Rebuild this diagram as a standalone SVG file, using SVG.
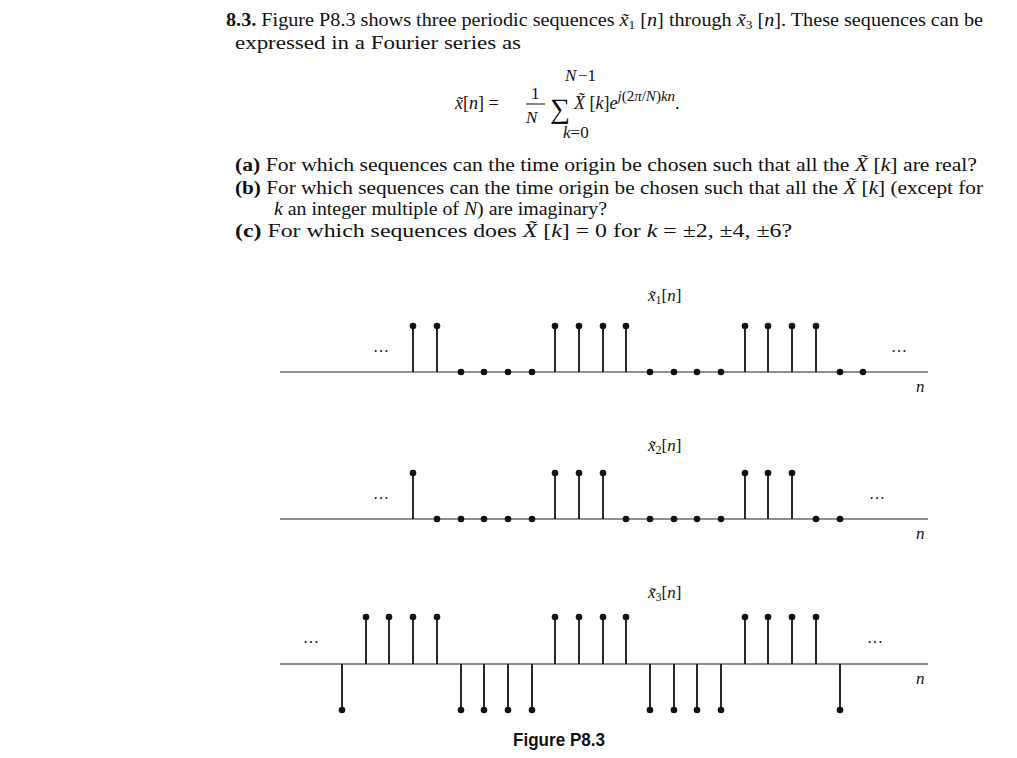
<svg xmlns="http://www.w3.org/2000/svg" width="1017" height="758" viewBox="0 0 1017 758" font-family="'Liberation Serif',serif" font-size="18">
<style>
text{fill:#111}
.i{font-style:italic}
.s{stroke:#111;stroke-width:1.8}
.ax{stroke:#222;stroke-width:1.2}
circle{fill:#111}
</style>
<rect width="1017" height="758" fill="#fff"/>
<text x="226" y="26" textLength="757" lengthAdjust="spacingAndGlyphs"><tspan font-weight="bold">8.3.</tspan> Figure P8.3 shows three periodic sequences <tspan class="i">x̃</tspan><tspan font-size="12" dy="3">1</tspan><tspan dy="-3"> [</tspan><tspan class="i">n</tspan>] through <tspan class="i">x̃</tspan><tspan font-size="12" dy="3">3</tspan><tspan dy="-3"> [</tspan><tspan class="i">n</tspan>]. These sequences can be</text>
<text x="235" y="49" textLength="286" lengthAdjust="spacingAndGlyphs">expressed in a Fourier series as</text>
<text x="565" y="81" font-size="17" class="i">N</text><text x="578" y="81" font-size="17">−1</text>
<text x="455" y="109"><tspan class="i">x̃</tspan>[<tspan class="i">n</tspan>] =</text>
<text x="531" y="99" font-size="17">1</text><line x1="526" y1="104" x2="545" y2="104" stroke="#111"/>
<text x="526" y="123" font-size="17" class="i">N</text>
<text x="550" y="118" font-size="28">∑</text>
<text x="574" y="109"><tspan class="i">X̃</tspan> [<tspan class="i">k</tspan>]<tspan class="i">e</tspan><tspan font-size="15" dy="-8"><tspan class="i">j</tspan>(2<tspan class="i">π</tspan>/<tspan class="i">N</tspan>)<tspan class="i">kn</tspan></tspan><tspan dy="8">.</tspan></text>
<text x="563" y="138" font-size="17"><tspan class="i">k</tspan>=0</text>
<text x="235" y="171" textLength="742" lengthAdjust="spacingAndGlyphs"><tspan font-weight="bold">(a)</tspan>  For which sequences can the time origin be chosen such that all the <tspan class="i">X̃</tspan> [<tspan class="i">k</tspan>] are real?</text>
<text x="235" y="194" textLength="748" lengthAdjust="spacingAndGlyphs"><tspan font-weight="bold">(b)</tspan>  For which sequences can the time origin be chosen such that all the <tspan class="i">X̃</tspan> [<tspan class="i">k</tspan>] (except for</text>
<text x="274" y="215" textLength="333" lengthAdjust="spacingAndGlyphs"><tspan class="i">k</tspan> an integer multiple of <tspan class="i">N</tspan>) are imaginary?</text>
<text x="235" y="237" textLength="557" lengthAdjust="spacingAndGlyphs"><tspan font-weight="bold">(c)</tspan>  For which sequences does <tspan class="i">X̃</tspan> [<tspan class="i">k</tspan>] = 0 for <tspan class="i">k</tspan> = ±2, ±4, ±6?</text>

<g id="plot1">
<text x="648" y="301" font-size="17"><tspan class="i">x̃</tspan><tspan font-size="12" dy="3">1</tspan><tspan dy="-3">[</tspan><tspan class="i">n</tspan>]</text>
<line class="ax" x1="280" y1="372" x2="928" y2="372"/>
<text x="373" y="352" font-size="16">…</text><text x="891" y="352" font-size="16">…</text>
<text x="916" y="392" class="i" font-size="17">n</text>
<g class="s"><line x1="413" y1="372" x2="413" y2="326"/><line x1="437" y1="372" x2="437" y2="326"/><line x1="555" y1="372" x2="555" y2="326"/><line x1="579" y1="372" x2="579" y2="326"/><line x1="603" y1="372" x2="603" y2="326"/><line x1="626" y1="372" x2="626" y2="326"/><line x1="745" y1="372" x2="745" y2="326"/><line x1="768" y1="372" x2="768" y2="326"/><line x1="792" y1="372" x2="792" y2="326"/><line x1="816" y1="372" x2="816" y2="326"/></g>
<g><circle cx="413" cy="326" r="3.3"/><circle cx="437" cy="326" r="3.3"/><circle cx="555" cy="326" r="3.3"/><circle cx="579" cy="326" r="3.3"/><circle cx="603" cy="326" r="3.3"/><circle cx="626" cy="326" r="3.3"/><circle cx="745" cy="326" r="3.3"/><circle cx="768" cy="326" r="3.3"/><circle cx="792" cy="326" r="3.3"/><circle cx="816" cy="326" r="3.3"/>
<circle cx="461" cy="372" r="3.3"/><circle cx="484" cy="372" r="3.3"/><circle cx="508" cy="372" r="3.3"/><circle cx="532" cy="372" r="3.3"/><circle cx="650" cy="372" r="3.3"/><circle cx="674" cy="372" r="3.3"/><circle cx="697" cy="372" r="3.3"/><circle cx="721" cy="372" r="3.3"/><circle cx="840" cy="372" r="3.3"/><circle cx="863" cy="372" r="3.3"/></g>
</g>

<g id="plot2">
<text x="648" y="451" font-size="17"><tspan class="i">x̃</tspan><tspan font-size="12" dy="3">2</tspan><tspan dy="-3">[</tspan><tspan class="i">n</tspan>]</text>
<line class="ax" x1="280" y1="519" x2="928" y2="519"/>
<text x="373" y="499" font-size="16">…</text><text x="869" y="499" font-size="16">…</text>
<text x="916" y="539" class="i" font-size="17">n</text>
<g class="s"><line x1="413" y1="519" x2="413" y2="473"/><line x1="555" y1="519" x2="555" y2="473"/><line x1="579" y1="519" x2="579" y2="473"/><line x1="603" y1="519" x2="603" y2="473"/><line x1="745" y1="519" x2="745" y2="473"/><line x1="768" y1="519" x2="768" y2="473"/><line x1="792" y1="519" x2="792" y2="473"/></g>
<g><circle cx="413" cy="473" r="3.3"/><circle cx="555" cy="473" r="3.3"/><circle cx="579" cy="473" r="3.3"/><circle cx="603" cy="473" r="3.3"/><circle cx="745" cy="473" r="3.3"/><circle cx="768" cy="473" r="3.3"/><circle cx="792" cy="473" r="3.3"/>
<circle cx="437" cy="519" r="3.3"/><circle cx="461" cy="519" r="3.3"/><circle cx="484" cy="519" r="3.3"/><circle cx="508" cy="519" r="3.3"/><circle cx="532" cy="519" r="3.3"/><circle cx="626" cy="519" r="3.3"/><circle cx="650" cy="519" r="3.3"/><circle cx="674" cy="519" r="3.3"/><circle cx="697" cy="519" r="3.3"/><circle cx="721" cy="519" r="3.3"/><circle cx="816" cy="519" r="3.3"/><circle cx="840" cy="519" r="3.3"/></g>
</g>

<g id="plot3">
<text x="648" y="598" font-size="17"><tspan class="i">x̃</tspan><tspan font-size="12" dy="3">3</tspan><tspan dy="-3">[</tspan><tspan class="i">n</tspan>]</text>
<line class="ax" x1="280" y1="664" x2="928" y2="664"/>
<text x="303" y="643" font-size="16">…</text><text x="867" y="643" font-size="16">…</text>
<text x="916" y="684" class="i" font-size="17">n</text>
<g class="s">
<line x1="366" y1="664" x2="366" y2="617"/><line x1="389" y1="664" x2="389" y2="617"/><line x1="413" y1="664" x2="413" y2="617"/><line x1="437" y1="664" x2="437" y2="617"/>
<line x1="555" y1="664" x2="555" y2="617"/><line x1="579" y1="664" x2="579" y2="617"/><line x1="603" y1="664" x2="603" y2="617"/><line x1="626" y1="664" x2="626" y2="617"/>
<line x1="745" y1="664" x2="745" y2="617"/><line x1="768" y1="664" x2="768" y2="617"/><line x1="792" y1="664" x2="792" y2="617"/><line x1="816" y1="664" x2="816" y2="617"/>
<line x1="342" y1="664" x2="342" y2="710"/><line x1="461" y1="664" x2="461" y2="710"/><line x1="484" y1="664" x2="484" y2="710"/><line x1="508" y1="664" x2="508" y2="710"/><line x1="532" y1="664" x2="532" y2="710"/>
<line x1="650" y1="664" x2="650" y2="710"/><line x1="674" y1="664" x2="674" y2="710"/><line x1="697" y1="664" x2="697" y2="710"/><line x1="721" y1="664" x2="721" y2="710"/><line x1="840" y1="664" x2="840" y2="710"/></g>
<g><circle cx="366" cy="617" r="3.3"/><circle cx="389" cy="617" r="3.3"/><circle cx="413" cy="617" r="3.3"/><circle cx="437" cy="617" r="3.3"/><circle cx="555" cy="617" r="3.3"/><circle cx="579" cy="617" r="3.3"/><circle cx="603" cy="617" r="3.3"/><circle cx="626" cy="617" r="3.3"/><circle cx="745" cy="617" r="3.3"/><circle cx="768" cy="617" r="3.3"/><circle cx="792" cy="617" r="3.3"/><circle cx="816" cy="617" r="3.3"/>
<circle cx="342" cy="710" r="3.3"/><circle cx="461" cy="710" r="3.3"/><circle cx="484" cy="710" r="3.3"/><circle cx="508" cy="710" r="3.3"/><circle cx="532" cy="710" r="3.3"/><circle cx="650" cy="710" r="3.3"/><circle cx="674" cy="710" r="3.3"/><circle cx="697" cy="710" r="3.3"/><circle cx="721" cy="710" r="3.3"/><circle cx="840" cy="710" r="3.3"/></g>
</g>
<text x="513" y="746" font-family="'Liberation Sans',sans-serif" font-weight="bold" font-size="18" textLength="92" lengthAdjust="spacingAndGlyphs">Figure P8.3</text>
</svg>
